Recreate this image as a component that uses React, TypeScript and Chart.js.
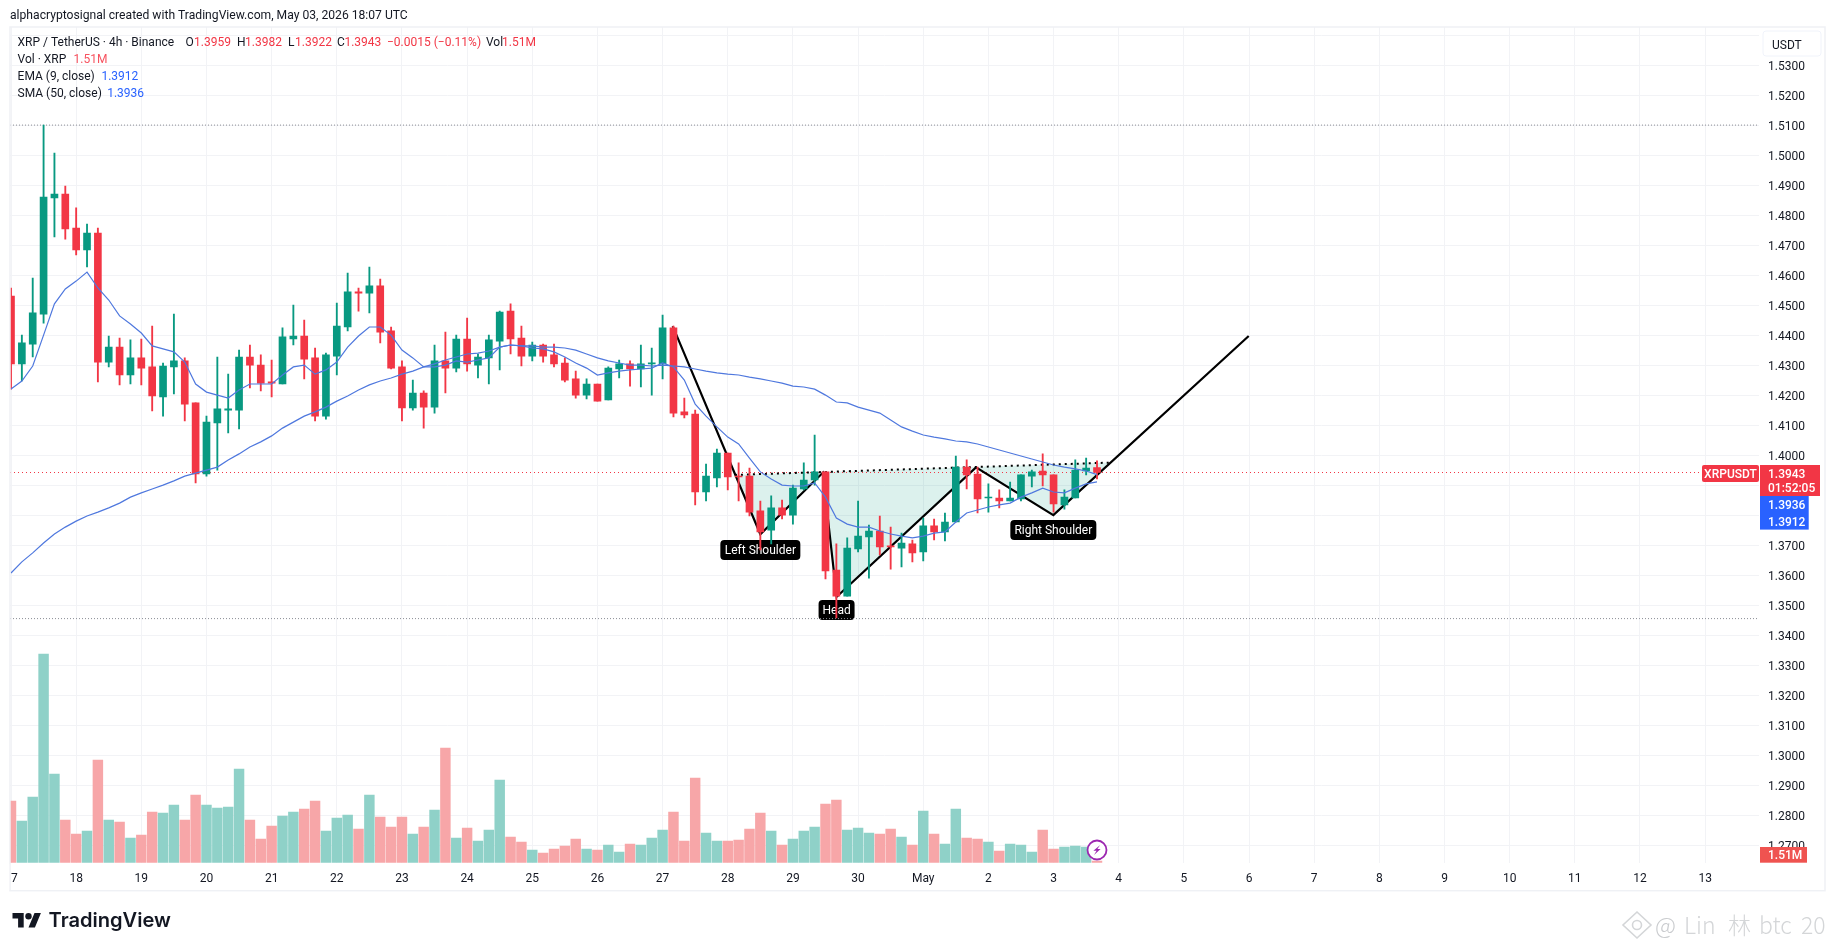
import React, { useEffect, useRef } from "react";
import { Chart, registerables } from "chart.js";

Chart.register(...registerables);

// ---- values ----
const dayTicks = ["17","18","19","20","21","22","23","24","25","26","27","28","29","30","May","2","3","4","5","6","7","8","9","10","11","12","13"];
const priceTicks = [1.54,1.53,1.52,1.51,1.50,1.49,1.48,1.47,1.46,1.45,1.44,1.43,1.42,1.41,1.40,1.39,1.38,1.37,1.36,1.35,1.34,1.33,1.32,1.31,1.30,1.29,1.28,1.27];

const candleOpen = [1.4531,1.4305,1.4371,1.4471,1.4858,1.4871,1.4758,1.4685,1.4741,1.4311,1.4361,1.4268,1.4325,1.4295,1.4195,1.4295,1.4315,1.4175,1.3938,1.4108,1.4151,1.4151,1.4328,1.4301,1.4245,1.4238,1.4388,1.4398,1.4325,1.4131,1.4331,1.4428,1.4545,1.4541,1.4565,1.4415,1.4295,1.4158,1.4208,1.4161,1.4315,1.4291,1.4388,1.4301,1.4325,1.4381,1.4481,1.4391,1.4331,1.4368,1.4335,1.4308,1.4255,1.4201,1.4238,1.4185,1.4288,1.4305,1.4288,1.4305,1.4305,1.4425,1.4145,1.4138,1.3878,1.3925,1.4008,1.3931,1.3931,1.3815,1.3751,1.3825,1.3801,1.3888,1.3918,1.3945,1.3618,1.3531,1.3688,1.3728,1.3748,1.3698,1.3691,1.3705,1.3678,1.3765,1.3745,1.3778,1.3961,1.3938,1.3858,1.3858,1.3848,1.3855,1.3931,1.3948,1.3935,1.3835,1.3858,1.3948,1.3959];
const candleHigh = [1.4558,1.4401,1.4591,1.5101,1.5008,1.4898,1.4825,1.4771,1.4758,1.4398,1.4391,1.4385,1.4388,1.4431,1.4308,1.4471,1.4325,1.4175,1.4131,1.4328,1.4271,1.4351,1.4368,1.4335,1.4318,1.4425,1.4501,1.4451,1.4358,1.4341,1.4508,1.4608,1.4558,1.4628,1.4588,1.4428,1.4315,1.4251,1.4215,1.4368,1.4411,1.4401,1.4458,1.4338,1.4401,1.4481,1.4505,1.4431,1.4378,1.4371,1.4371,1.4325,1.4281,1.4255,1.4238,1.4295,1.4318,1.4315,1.4368,1.4358,1.4468,1.4431,1.4191,1.4151,1.3971,1.4021,1.4008,1.3975,1.3958,1.3848,1.3865,1.3851,1.3901,1.3975,1.4068,1.3945,1.3705,1.3725,1.3848,1.3768,1.3798,1.3761,1.3741,1.3718,1.3791,1.3788,1.3808,1.3998,1.3985,1.3961,1.3905,1.3885,1.3911,1.3935,1.3951,1.4005,1.3935,1.3885,1.3985,1.3991,1.3982];
const candleLow = [1.4221,1.4248,1.4328,1.4441,1.4728,1.4721,1.4668,1.4628,1.4245,1.4295,1.4235,1.4238,1.4235,1.4148,1.4131,1.4205,1.4115,1.3908,1.3931,1.3951,1.4075,1.4088,1.4225,1.4215,1.4195,1.4238,1.4368,1.4255,1.4115,1.4121,1.4268,1.4415,1.4481,1.4475,1.4375,1.4288,1.4115,1.4151,1.4091,1.4141,1.4208,1.4278,1.4281,1.4258,1.4238,1.4285,1.4338,1.4298,1.4315,1.4311,1.4295,1.4245,1.4191,1.4188,1.4181,1.4185,1.4258,1.4231,1.4228,1.4201,1.4255,1.4128,1.4125,1.3835,1.3848,1.3895,1.3885,1.3848,1.3798,1.3685,1.3705,1.3788,1.3771,1.3885,1.3901,1.3588,1.3458,1.3531,1.3678,1.3591,1.3668,1.3621,1.3628,1.3645,1.3648,1.3718,1.3715,1.3778,1.3888,1.3808,1.3811,1.3825,1.3848,1.3848,1.3895,1.3898,1.3811,1.3821,1.3858,1.3935,1.3922];
const candleClose = [1.4305,1.4375,1.4475,1.4861,1.4871,1.4755,1.4685,1.4741,1.4311,1.4361,1.4268,1.4325,1.4291,1.4198,1.4298,1.4315,1.4171,1.3938,1.4111,1.4155,1.4155,1.4328,1.4301,1.4241,1.4241,1.4395,1.4398,1.4321,1.4131,1.4335,1.4431,1.4545,1.4541,1.4565,1.4411,1.4291,1.4158,1.4208,1.4161,1.4315,1.4291,1.4388,1.4305,1.4328,1.4385,1.4478,1.4388,1.4331,1.4368,1.4331,1.4305,1.4251,1.4201,1.4238,1.4181,1.4291,1.4305,1.4288,1.4305,1.4308,1.4425,1.4141,1.4135,1.3878,1.3931,1.4008,1.3928,1.3928,1.3811,1.3745,1.3825,1.3801,1.3891,1.3918,1.3945,1.3615,1.3531,1.3691,1.3731,1.3748,1.3695,1.3695,1.3708,1.3675,1.3765,1.3745,1.3778,1.3961,1.3935,1.3855,1.3861,1.3848,1.3858,1.3935,1.3945,1.3935,1.3838,1.3861,1.3951,1.3958,1.3943];
const volumeM = [61.7,41.7,65.7,208.7,88.7,42.7,28.7,31.7,102.7,42.7,40.7,24.7,27.7,50.7,49.7,57.7,42.7,67.7,57.7,54.7,55.7,93.7,42.7,23.7,36.7,46.7,50.7,53.7,61.7,31.7,44.7,47.7,33.7,67.7,45.7,35.7,45.7,28.7,35.7,52.7,114.7,24.7,34.7,21.7,32.7,82.7,25.7,20.7,12.7,9.7,13.7,16.7,23.7,13.7,12.7,17.7,10.7,18.7,17.7,24.7,32.7,50.7,21.7,84.7,29.7,21.7,21.7,22.7,33.7,49.7,31.7,17.7,23.7,31.7,35.7,58.7,62.7,32.7,34.7,29.7,28.7,33.7,25.7,17.7,51.7,28.7,18.7,53.7,24.7,23.7,20.7,11.7,18.7,17.7,10.7,32.7,13.7,15.7,16.7,15.7,1.51];
const ema9 = [1.4221,1.4248,1.4298,1.4401,1.4505,1.4555,1.4581,1.4611,1.4558,1.4518,1.4465,1.4438,1.4408,1.4365,1.4355,1.4345,1.4311,1.4238,1.4211,1.4201,1.4191,1.4218,1.4238,1.4238,1.4238,1.4268,1.4295,1.4301,1.4271,1.4285,1.4311,1.4361,1.4398,1.4428,1.4428,1.4401,1.4351,1.4325,1.4295,1.4295,1.4301,1.4315,1.4311,1.4318,1.4325,1.4361,1.4368,1.4365,1.4358,1.4355,1.4345,1.4328,1.4308,1.4291,1.4268,1.4275,1.4281,1.4285,1.4288,1.4291,1.4308,1.4295,1.4251,1.4171,1.4131,1.4095,1.4061,1.4038,1.3991,1.3945,1.3921,1.3901,1.3898,1.3898,1.3908,1.3861,1.3791,1.3771,1.3761,1.3761,1.3748,1.3738,1.3731,1.3725,1.3731,1.3741,1.3745,1.3778,1.3808,1.3818,1.3828,1.3835,1.3841,1.3861,1.3875,1.3891,1.3878,1.3875,1.3891,1.3905,1.3912];
const sma50 = [1.3608,1.3645,1.3675,1.3708,1.3738,1.3761,1.3781,1.3798,1.3811,1.3825,1.3841,1.3861,1.3875,1.3888,1.3901,1.3915,1.3931,1.3941,1.3951,1.3961,1.3985,1.4005,1.4028,1.4045,1.4065,1.4091,1.4111,1.4131,1.4145,1.4161,1.4181,1.4198,1.4218,1.4235,1.4248,1.4258,1.4271,1.4281,1.4295,1.4305,1.4318,1.4328,1.4338,1.4341,1.4348,1.4361,1.4368,1.4365,1.4365,1.4361,1.4361,1.4358,1.4351,1.4338,1.4325,1.4315,1.4308,1.4301,1.4301,1.4298,1.4301,1.4298,1.4295,1.4288,1.4281,1.4275,1.4271,1.4268,1.4261,1.4255,1.4248,1.4241,1.4231,1.4228,1.4221,1.4201,1.4178,1.4175,1.4161,1.4151,1.4141,1.4118,1.4095,1.4081,1.4068,1.4061,1.4055,1.4048,1.4045,1.4038,1.4028,1.4018,1.4008,1.3998,1.3988,1.3978,1.3968,1.3961,1.3955,1.3948,1.3936];

// pattern drawing, in bar index / price
const patternBars = [60.93,69.0,74.75,76.03,88.86,95.98,113.97];
const patternPrices = [1.4431,1.3737,1.3942,1.3529,1.3960,1.3801,1.4398];
const necklineBars = [66.66,101.2];
const necklinePrices = [1.3935,1.3976];
const highLine = 1.5101;
const lowLine = 1.3456;
const lastPrice = 1.3943;
const patternLabels = [
  { text: "Left Shoulder", bar: 69.0, price: 1.3685, w: 80 },
  { text: "Head", bar: 76.02, price: 1.3485, w: 36 },
  { text: "Right Shoulder", bar: 95.98, price: 1.3751, w: 86 },
];

const HEADER = "alphacryptosignal created with TradingView.com, May 03, 2026 18:07 UTC";
const FONT = "Roboto, sans-serif";
const RED = "#F23645";
const GREEN = "#089981";
const BLUE = "#2962FF";
const INK = "#131722";
const GRID = "#f2f3f6";

const PX_PER_BAR = 10.86;
const PLOT = { left: 10, right: 1759, top: 27, bottom: 862.7 };
const priceAt = (y: number) => 1.53 - (y - 65.4) / 3000;

function text(ctx: CanvasRenderingContext2D, s: string, x: number, y: number, color: string, font = `12px ${FONT}`, align: CanvasTextAlign = "left") {
  ctx.fillStyle = color;
  ctx.font = font;
  ctx.textAlign = align;
  ctx.textBaseline = "middle";
  ctx.fillText(s, x, y + 1.2);
}

function roundRect(ctx: CanvasRenderingContext2D, x: number, y: number, w: number, h: number, r: number, fill: string) {
  ctx.fillStyle = fill;
  ctx.beginPath();
  ctx.roundRect(x, y, w, h, r);
  ctx.fill();
}

const underlay = {
  id: "underlay",
  beforeDatasetsDraw(chart: any) {
    const { ctx, scales } = chart;
    const px = (b: number) => scales.x.getPixelForValue(b);
    const py = (p: number) => scales.y.getPixelForValue(p);
    ctx.save();
    ctx.fillStyle = "rgba(8,153,129,0.14)";
    ctx.beginPath();
    ctx.moveTo(px(necklineBars[0]), py(necklinePrices[0]));
    for (let i = 1; i < 6; i++) ctx.lineTo(px(patternBars[i]), py(patternPrices[i]));
    ctx.lineTo(px(necklineBars[1]), py(necklinePrices[1]));
    ctx.closePath();
    ctx.fill();
    for (const l of patternLabels) {
      const x = px(l.bar), y = py(l.price);
      roundRect(ctx, x - l.w / 2, y - 10, l.w, 20, 4, "#000");
      text(ctx, l.text, x, y, "#fff", `12px ${FONT}`, "center");
    }
    ctx.restore();
  },
};

const overlay = {
  id: "overlay",
  afterDraw(chart: any) {
    const { ctx, scales } = chart;
    ctx.save();
    ctx.strokeStyle = "#eff1f5";
    ctx.lineWidth = 1.5;
    ctx.strokeRect(10, 27, 1815, 863.7);
    ctx.fillStyle = "#fff";
    ctx.fillRect(0, 864, 9.2, 26);

    text(ctx, HEADER, 10, 15, INK, `12.13px ${FONT}`);

    const lf = `12px ${FONT}`;
    text(ctx, "XRP / TetherUS · 4h · Binance", 17.6, 41.7, INK, lf);
    const parts: [string, number, string][] = [
      ["O", 185.6, INK], ["1.3959", 194, RED], ["H", 237, INK], ["1.3982", 245, RED],
      ["L", 288, INK], ["1.3922", 295, RED], ["C", 337, INK], ["1.3943", 344.4, RED],
      ["−0.0015 (−0.11%)", 387, RED], ["Vol", 486, INK], ["1.51M", 502, RED],
    ];
    for (const [s, x, c] of parts) text(ctx, s, x, 41.7, c, lf);
    text(ctx, "Vol · XRP", 17.6, 58.7, INK, lf);
    text(ctx, "1.51M", 73.5, 58.7, "#F7525F", lf);
    text(ctx, "EMA (9, close)", 17.6, 76, INK, lf);
    text(ctx, "1.3912", 101.4, 76, BLUE, lf);
    text(ctx, "SMA (50, close)", 17.6, 92.7, INK, lf);
    text(ctx, "1.3936", 107.2, 92.7, BLUE, lf);

    roundRect(ctx, 1763, 31, 58, 25, 3, "#fff");
    ctx.strokeStyle = "#f0f3fa";
    ctx.lineWidth = 1;
    ctx.beginPath();
    ctx.roundRect(1763, 31, 58, 25, 3);
    ctx.stroke();
    text(ctx, "USDT", 1772, 44.6, INK, lf);

    const pf = `500 12px ${FONT}`;
    roundRect(ctx, 1702, 465, 57, 17, 2, RED);
    text(ctx, "XRPUSDT", 1730.5, 474, "#fff", pf, "center");
    ctx.fillStyle = RED;
    ctx.fillRect(1760, 465, 60, 31);
    text(ctx, "1.3943", 1768, 473.8, "#fff", pf);
    text(ctx, "01:52:05", 1768, 488, "#fff", pf);
    ctx.fillStyle = BLUE;
    ctx.fillRect(1760, 496, 48.7, 33.6);
    text(ctx, "1.3936", 1768, 504.3, "#fff", pf);
    text(ctx, "1.3912", 1768, 521.4, "#fff", pf);
    ctx.fillStyle = "#EF5350";
    ctx.fillRect(1760, 847, 47, 15.7);
    text(ctx, "1.51M", 1768, 854.6, "#fff", pf);

    const bx = scales.x.getPixelForValue(100), by = 850;
    ctx.beginPath();
    ctx.arc(bx, by, 9.5, 0, Math.PI * 2);
    ctx.fillStyle = "#fff";
    ctx.fill();
    ctx.strokeStyle = "#9C27B0";
    ctx.lineWidth = 1.8;
    ctx.stroke();
    ctx.fillStyle = "#9C27B0";
    ctx.beginPath();
    ctx.moveTo(bx + 3.2, by - 5);
    ctx.lineTo(bx - 3.6, by + 0.8);
    ctx.lineTo(bx - 0.4, by + 0.8);
    ctx.lineTo(bx - 3, by + 5);
    ctx.lineTo(bx + 3.6, by - 1);
    ctx.lineTo(bx + 0.4, by - 1);
    ctx.closePath();
    ctx.fill();

    ctx.save();
    ctx.translate(12.5, 909.8);
    ctx.scale(0.8, 0.8);
    ctx.fillStyle = INK;
    ctx.fill(new Path2D("M14 22H7V11H0V4h14v18zM28 22h-8l7.5-18h8L28 22z"));
    ctx.beginPath();
    ctx.arc(20, 8, 4, 0, Math.PI * 2);
    ctx.fill();
    ctx.restore();
    text(ctx, "TradingView", 48.5, 920, INK, `600 20.1px Inter, ${FONT}`);

    const wm = "#d4d6d8";
    ctx.strokeStyle = wm;
    ctx.lineWidth = 1.6;
    const cx = 1637, cy = 925;
    ctx.beginPath();
    ctx.moveTo(cx, cy - 13); ctx.lineTo(cx + 14, cy); ctx.lineTo(cx, cy + 13); ctx.lineTo(cx - 14, cy); ctx.closePath();
    ctx.stroke();
    ctx.beginPath();
    ctx.arc(cx, cy, 4.5, 0, Math.PI * 2);
    ctx.stroke();
    const wf = `300 23px "Noto Sans CJK SC", ${FONT}`;
    text(ctx, "@", 1655, 924, "#c9cbce", wf);
    text(ctx, "Lin", 1684, 924.5, wm, wf);
    text(ctx, "林", 1728, 924.5, wm, wf);
    text(ctx, "btc", 1759, 924.5, wm, wf);
    text(ctx, "20", 1801, 924.5, wm, wf);
    ctx.restore();
  },
};

export default function App() {
  const ref = useRef<HTMLCanvasElement>(null);
  useEffect(() => {
    const idx = candleOpen.map((_, i) => i);
    const up = idx.map((i) => candleClose[i] >= candleOpen[i]);
    const xMin = (PLOT.left - 11) / PX_PER_BAR;
    const xMax = (PLOT.right - 11) / PX_PER_BAR;
    const horiz = (p: number, end = xMax) => [{ x: xMin, y: p }, { x: end, y: p }];
    const chart = new Chart(ref.current as HTMLCanvasElement, {
      type: "bar",
      data: {
        datasets: [
          {
            type: "bar", label: "Vol", yAxisID: "v", order: 20, grouped: false, barThickness: 9.8,
            data: idx.map((i) => ({ x: i, y: volumeM[i] })),
            backgroundColor: idx.map((i) => (up[i] ? "#8fd1c8" : "#f7a6a8")),
          },
          {
            type: "line", label: "High", yAxisID: "y", order: 19, pointRadius: 0, borderWidth: 1,
            borderColor: "#8b8e96", borderDash: [1, 2], data: horiz(highLine),
          },
          {
            type: "line", label: "Low", yAxisID: "y", order: 19, pointRadius: 0, borderWidth: 1,
            borderColor: "#8b8e96", borderDash: [1, 2], data: horiz(lowLine),
          },
          {
            type: "line", label: "Last", yAxisID: "y", order: 18, pointRadius: 0, borderWidth: 1,
            borderColor: RED, borderDash: [1, 3], data: horiz(lastPrice, (1702 - 11) / PX_PER_BAR),
          },
          {
            type: "line", label: "Pattern", yAxisID: "y", order: 17, pointRadius: 0, borderWidth: 2.2,
            borderColor: "#000", borderJoinStyle: "miter", tension: 0,
            data: patternBars.map((b, i) => ({ x: b, y: patternPrices[i] })),
          },
          {
            type: "line", label: "Neckline", yAxisID: "y", order: 16, pointRadius: 0, borderWidth: 2,
            borderColor: "#000", borderDash: [2, 4],
            data: necklineBars.map((b, i) => ({ x: b, y: necklinePrices[i] })),
          },
          {
            type: "bar", label: "Wick", yAxisID: "y", order: 10, grouped: false, barThickness: 1.2,
            data: idx.map((i) => ({ x: i, y: [candleLow[i], candleHigh[i]] })),
            backgroundColor: idx.map((i) => (up[i] ? GREEN : RED)),
          },
          {
            type: "bar", label: "Body", yAxisID: "y", order: 9, grouped: false, barThickness: 7, minBarLength: 1,
            data: idx.map((i) => ({ x: i, y: [Math.min(candleOpen[i], candleClose[i]), Math.max(candleOpen[i], candleClose[i])] })),
            backgroundColor: idx.map((i) => (up[i] ? GREEN : RED)),
          },
          {
            type: "line", label: "SMA 50", yAxisID: "y", order: 4, pointRadius: 0, borderWidth: 1.2,
            borderColor: "#4f78de", tension: 0, data: idx.map((i) => ({ x: i, y: sma50[i] })),
          },
          {
            type: "line", label: "EMA 9", yAxisID: "y", order: 3, pointRadius: 0, borderWidth: 1.2,
            borderColor: "#4f78de", tension: 0, data: idx.map((i) => ({ x: i, y: ema9[i] })),
          },
        ] as any,
      },
      options: {
        animation: false,
        responsive: false,
        devicePixelRatio: 1,
        layout: { padding: { left: PLOT.left, top: PLOT.top, right: 0, bottom: 0 } },
        plugins: { legend: { display: false }, tooltip: { enabled: false } },
        scales: {
          x: {
            type: "linear",
            offset: false,
            min: xMin,
            max: xMax,
            afterBuildTicks: (axis: any) => { axis.ticks = dayTicks.map((_, i) => ({ value: i * 6 })); },
            afterFit: (axis: any) => { axis.height = 951 - PLOT.bottom; axis.paddingLeft = 0; axis.paddingRight = 0; },
            grid: { color: GRID, lineWidth: 1, drawTicks: false, offset: false },
            border: { display: false },
            ticks: {
              autoSkip: false, maxRotation: 0, padding: 9, color: INK,
              font: { family: "Roboto", size: 12 },
              callback: (_: any, i: number) => dayTicks[i],
            },
          },
          y: {
            type: "linear",
            position: "right",
            min: priceAt(PLOT.bottom),
            max: priceAt(PLOT.top),
            afterBuildTicks: (axis: any) => { axis.ticks = priceTicks.map((p) => ({ value: p })); },
            afterFit: (axis: any) => { axis.width = 1835 - PLOT.right; axis.paddingTop = 0; axis.paddingBottom = 0; },
            grid: { color: GRID, lineWidth: 1, drawTicks: false },
            border: { display: false },
            ticks: {
              autoSkip: false, padding: 9, color: INK, labelOffset: 1.6,
              font: { family: "Roboto", size: 12 },
              callback: (v: any) => (v > 1.535 ? "" : Number(v).toFixed(4)),
            },
          },
          v: {
            type: "linear",
            display: false,
            min: 0,
            max: PLOT.bottom - PLOT.top,
            position: "left",
            ticks: { display: false },
            grid: { display: false },
            afterFit: (axis: any) => { axis.width = 0; axis.paddingTop = 0; axis.paddingBottom = 0; },
          },
        },
      } as any,
      plugins: [underlay, overlay],
    });
    return () => chart.destroy();
  }, []);
  return (
    <div style={{ position: "fixed", left: 0, top: 0, width: 1835, height: 951, background: "#fff" }}>
      <canvas ref={ref} width={1835} height={951} style={{ display: "block", width: 1835, height: 951 }} />
    </div>
  );
}
